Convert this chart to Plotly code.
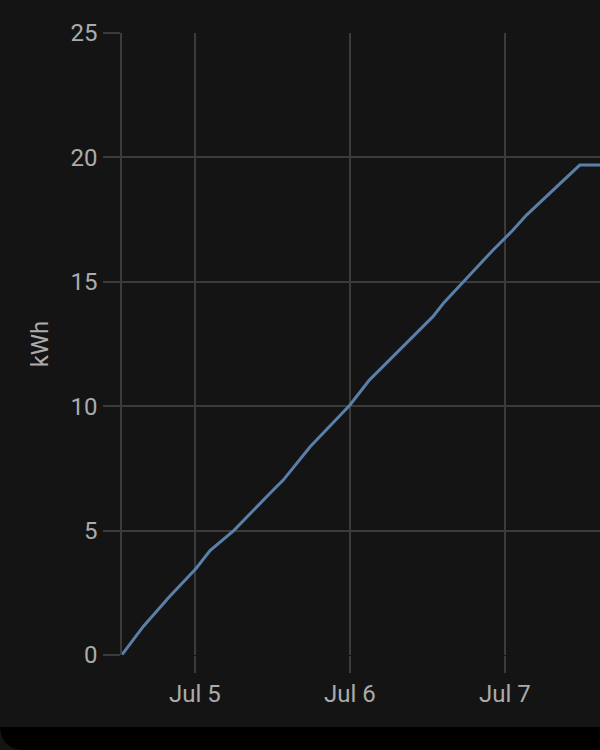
import plotly.graph_objects as go

# cumulative energy readings
times = [
    "2023-07-04 12:40", "2023-07-04 16:00", "2023-07-04 20:00",
    "2023-07-05 00:10", "2023-07-05 02:20", "2023-07-05 06:00",
    "2023-07-05 12:00", "2023-07-05 13:40", "2023-07-05 17:50",
    "2023-07-06 00:00", "2023-07-06 03:00", "2023-07-06 12:50",
    "2023-07-06 14:30", "2023-07-06 17:50", "2023-07-06 22:10",
    "2023-07-07 01:15", "2023-07-07 03:20", "2023-07-07 11:35",
    "2023-07-07 16:00",
]
kwh = [
    0.0, 1.15, 2.33,
    3.48, 4.2, 5.0,
    6.6, 7.03, 8.37,
    10.05, 11.05, 13.6,
    14.15, 15.07, 16.28,
    17.08, 17.68, 19.69,
    19.69,
]

x_range = ["2023-07-04 12:42", "2023-07-07 14:43"]
y_ticks = [0, 5, 10, 15, 20, 25]

bg = "#141414"
grid = "#3b3b3b"
txt = "#ababab"

fig = go.Figure(go.Scatter(
    x=times, y=kwh, mode="lines",
    line=dict(color="#5a7fa9", width=3),
    hoverinfo="skip",
))

# plot area in pixels: left 122, top 33, bottom 655, right 600
L, T, B, R = 122, 33, 655, 600
W, H = R - L, B - T


def px(x):
    return (x - L) / W


def py(y):
    return (B - y) / H


# black strip under the card with rounded corner at left
path = (f"M {px(0)},{py(727)} Q {px(1)},{py(750)} {px(26)},{py(750)} "
        f"L {px(600)},{py(750)} L {px(600)},{py(727)} Z")

fig.update_layout(
    width=600, height=750,
    margin=dict(l=L, r=0, t=T, b=750 - B),
    paper_bgcolor=bg, plot_bgcolor=bg,
    font=dict(family="Roboto", size=24, color=txt),
    showlegend=False,
    shapes=[dict(type="path", xref="paper", yref="paper", path=path,
                 fillcolor="#000000", line=dict(width=0), layer="above")],
    xaxis=dict(
        type="date", range=x_range,
        tick0="2023-07-05", dtick=86400000, tickformat="%b %-d",
        showgrid=True, gridcolor=grid, gridwidth=1.5,
        ticks="outside", ticklen=17, tickcolor=grid, tickwidth=1.5,
        ticklabelstandoff=0,
        zeroline=False, showline=False,
        automargin=False,
    ),
    yaxis=dict(
        range=[0, 25], tickvals=y_ticks,
        showgrid=True, gridcolor=grid, gridwidth=1.5,
        ticks="outside", ticklen=17, tickcolor=grid, tickwidth=1.5,
        ticklabelstandoff=1,
        showline=True, linecolor=grid, linewidth=1.5,
        zeroline=False,
        title=dict(text="kWh", standoff=15, font=dict(size=24, color=txt)),
        automargin=False,
    ),
)

fig.write_html(
    "out.html",
    config={"displayModeBar": False},
    post_script="document.body.style.margin='0';"
                "document.body.style.background='#000';"
                "document.body.style.overflow='hidden';",
)
